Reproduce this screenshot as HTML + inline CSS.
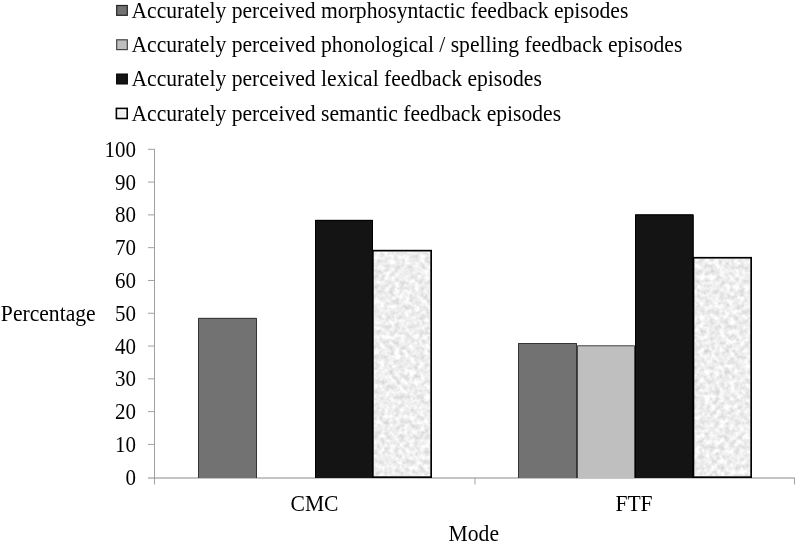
<!DOCTYPE html>
<html><head><meta charset="utf-8"><style>
html,body{margin:0;padding:0;background:#fff;width:797px;height:543px;overflow:hidden}
svg{display:block}
text{font-family:"Liberation Serif","Times New Roman",serif;font-size:21px;fill:#000}
</style></head><body>
<svg width="797" height="543" viewBox="0 0 797 543">
<defs>
<filter id="noise" x="0" y="0" width="100%" height="100%" color-interpolation-filters="sRGB">
<feTurbulence type="fractalNoise" baseFrequency="0.2" numOctaves="2" seed="7"/>
<feColorMatrix type="matrix" values="0.28 0 0 0 0.795  0.28 0 0 0 0.795  0.28 0 0 0 0.795  0 0 0 0 1"/>
</filter>
</defs>
<rect width="797" height="543" fill="#fff"/>

<rect x="116.7" y="5.50" width="10.6" height="9.8" fill="#727272" stroke="#222" stroke-width="1.2"/>
<text transform="translate(131.47,17.80) scale(1.03,1.09)">Accurately perceived morphosyntactic feedback episodes</text>
<rect x="116.7" y="39.80" width="10.6" height="9.8" fill="#bfbfbf" stroke="#444" stroke-width="1.2"/>
<text transform="translate(131.47,52.10) scale(1.03,1.09)">Accurately perceived phonological / spelling feedback episodes</text>
<rect x="116.7" y="74.10" width="10.6" height="9.8" fill="#141414" stroke="#000" stroke-width="1.2"/>
<text transform="translate(131.47,86.40) scale(1.03,1.09)">Accurately perceived lexical feedback episodes</text>
<rect x="116.4" y="108.40" width="10.8" height="10.1" fill="#fafafa" stroke="#000" stroke-width="1.6"/>
<rect x="119" y="111.00" width="6" height="5.5" fill="#eeeeee"/>
<text transform="translate(131.47,121.00) scale(1.03,1.09)">Accurately perceived semantic feedback episodes</text>
<line x1="154.5" y1="149" x2="154.5" y2="484.5" stroke="#a0a0a0" stroke-width="1"/>
<line x1="148" y1="478.00" x2="155" y2="478.00" stroke="#8a8a8a" stroke-width="1"/>
<text transform="translate(136.00,484.80) scale(1.0,1.09)" text-anchor="end">0</text>
<line x1="148" y1="444.41" x2="155" y2="444.41" stroke="#a0a0a0" stroke-width="1"/>
<text transform="translate(136.00,452.01) scale(1.0,1.09)" text-anchor="end">10</text>
<line x1="148" y1="411.62" x2="155" y2="411.62" stroke="#a0a0a0" stroke-width="1"/>
<text transform="translate(136.00,419.22) scale(1.0,1.09)" text-anchor="end">20</text>
<line x1="148" y1="378.83" x2="155" y2="378.83" stroke="#a0a0a0" stroke-width="1"/>
<text transform="translate(136.00,386.43) scale(1.0,1.09)" text-anchor="end">30</text>
<line x1="148" y1="346.04" x2="155" y2="346.04" stroke="#a0a0a0" stroke-width="1"/>
<text transform="translate(136.00,353.64) scale(1.0,1.09)" text-anchor="end">40</text>
<line x1="148" y1="313.25" x2="155" y2="313.25" stroke="#a0a0a0" stroke-width="1"/>
<text transform="translate(136.00,320.85) scale(1.0,1.09)" text-anchor="end">50</text>
<line x1="148" y1="280.46" x2="155" y2="280.46" stroke="#a0a0a0" stroke-width="1"/>
<text transform="translate(136.00,288.06) scale(1.0,1.09)" text-anchor="end">60</text>
<line x1="148" y1="247.67" x2="155" y2="247.67" stroke="#a0a0a0" stroke-width="1"/>
<text transform="translate(136.00,255.27) scale(1.0,1.09)" text-anchor="end">70</text>
<line x1="148" y1="214.88" x2="155" y2="214.88" stroke="#a0a0a0" stroke-width="1"/>
<text transform="translate(136.00,222.48) scale(1.0,1.09)" text-anchor="end">80</text>
<line x1="148" y1="182.09" x2="155" y2="182.09" stroke="#a0a0a0" stroke-width="1"/>
<text transform="translate(136.00,189.69) scale(1.0,1.09)" text-anchor="end">90</text>
<line x1="148" y1="149.30" x2="155" y2="149.30" stroke="#a0a0a0" stroke-width="1"/>
<text transform="translate(136.00,156.90) scale(1.0,1.09)" text-anchor="end">100</text>
<line x1="155" y1="478" x2="795" y2="478" stroke="#8a8a8a" stroke-width="1"/>
<line x1="475.0" y1="478" x2="475.0" y2="484.5" stroke="#a0a0a0" stroke-width="1"/>
<line x1="794.5" y1="478" x2="794.5" y2="484.5" stroke="#a0a0a0" stroke-width="1"/>
<rect x="198.00" y="317.90" width="59.00" height="160.10" fill="#727272"/>
<path d="M198.50,478.00V318.40H256.50V478.00" fill="none" stroke="#343434" stroke-width="1"/>
<rect x="315.00" y="219.90" width="58.00" height="258.10" fill="#141414"/>
<path d="M315.50,478.00V220.40H372.50V478.00" fill="none" stroke="#000" stroke-width="1"/>
<rect x="373.00" y="250.80" width="58.00" height="226.20" fill="#fff"/>
<rect x="374.20" y="252.00" width="55.60" height="223.80" fill="#eee" filter="url(#noise)"/>
<rect x="372.85" y="250.65" width="58.30" height="226.50" fill="none" stroke="#000" stroke-width="1.7"/>
<rect x="518.00" y="343.00" width="59.00" height="135.00" fill="#727272"/>
<path d="M518.50,478.00V343.50H576.50V478.00" fill="none" stroke="#343434" stroke-width="1"/>
<rect x="577.00" y="345.30" width="58.00" height="132.70" fill="#bfbfbf"/>
<path d="M577.50,478.00V345.80H634.50V478.00" fill="none" stroke="#4a4a4a" stroke-width="1"/>
<rect x="635.00" y="214.40" width="58.60" height="263.60" fill="#141414"/>
<path d="M635.50,478.00V214.90H693.10V478.00" fill="none" stroke="#000" stroke-width="1"/>
<rect x="693.60" y="257.90" width="57.40" height="219.10" fill="#fff"/>
<rect x="694.80" y="259.10" width="55.00" height="216.70" fill="#eee" filter="url(#noise)"/>
<rect x="693.45" y="257.75" width="57.70" height="219.40" fill="none" stroke="#000" stroke-width="1.7"/>
<text transform="translate(314.50,510.60) scale(1.03,1.09)" text-anchor="middle">CMC</text>
<text transform="translate(634.00,510.60) scale(1.03,1.09)" text-anchor="middle">FTF</text>
<text transform="translate(473.80,540.70) scale(1.03,1.09)" text-anchor="middle">Mode</text>
<text transform="translate(0.87,321.10) scale(1.03,1.09)">Percentage</text>
</svg></body></html>
